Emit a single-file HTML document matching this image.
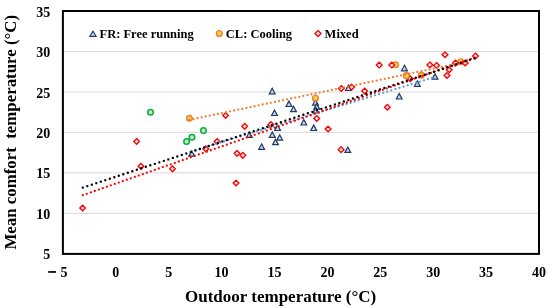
<!DOCTYPE html>
<html><head><meta charset="utf-8"><style>
html,body{margin:0;padding:0;background:#fff;width:550px;height:308px;overflow:hidden}
svg{display:block;will-change:transform}
text{font-family:"Liberation Serif",serif;font-weight:bold;fill:#000}
.tk{font-size:14px}
.lg{font-size:12.5px}
.g{stroke:#d9d9d9;stroke-width:1}
.d{fill:#d8ecf0;stroke:#ff0000;stroke-width:1.35;stroke-linejoin:miter}
.t{fill:#c5daf0;stroke:#203864;stroke-width:1.2;stroke-linejoin:miter}
.o{fill:#ffd24a;stroke:#ed7d31;stroke-width:1.4}
.gr{fill:#cfe3a8;stroke:#00b050;stroke-width:1.5}
</style></head><body>
<svg width="550" height="308" viewBox="0 0 550 308">
<rect x="0" y="0" width="550" height="308" fill="#fff"/>
<line x1="63.9" x2="538.0" y1="213.4" y2="213.4" class="g"/><line x1="63.9" x2="538.0" y1="172.9" y2="172.9" class="g"/><line x1="63.9" x2="538.0" y1="132.4" y2="132.4" class="g"/><line x1="63.9" x2="538.0" y1="92.0" y2="92.0" class="g"/><line x1="63.9" x2="538.0" y1="51.5" y2="51.5" class="g"/>
<path d="M191.7 150.8L194.6 156.2L188.8 156.2Z" class="t"/><path d="M249.4 132.0L252.3 137.4L246.5 137.4Z" class="t"/><path d="M261.6 143.9L264.5 149.3L258.7 149.3Z" class="t"/><path d="M272.2 88.3L275.1 93.8L269.3 93.8Z" class="t"/><path d="M274.5 110.0L277.4 115.5L271.6 115.5Z" class="t"/><path d="M277.6 125.1L280.5 130.5L274.7 130.5Z" class="t"/><path d="M272.3 131.9L275.2 137.3L269.4 137.3Z" class="t"/><path d="M279.7 134.7L282.6 140.2L276.8 140.2Z" class="t"/><path d="M275.5 139.2L278.4 144.7L272.6 144.7Z" class="t"/><path d="M288.9 101.1L291.8 106.5L286.0 106.5Z" class="t"/><path d="M293.5 106.2L296.4 111.7L290.6 111.7Z" class="t"/><path d="M303.8 119.5L306.7 125.0L300.9 125.0Z" class="t"/><path d="M313.7 125.1L316.6 130.5L310.8 130.5Z" class="t"/><path d="M315.5 99.8L318.4 105.2L312.6 105.2Z" class="t"/><path d="M316.7 103.8L319.6 109.2L313.8 109.2Z" class="t"/><path d="M315.8 107.6L318.7 113.0L312.9 113.0Z" class="t"/><path d="M347.8 147.0L350.7 152.4L344.9 152.4Z" class="t"/><path d="M348.4 85.1L351.3 90.5L345.5 90.5Z" class="t"/><path d="M399.2 93.5L402.1 99.0L396.3 99.0Z" class="t"/><path d="M404.5 65.3L407.4 70.8L401.6 70.8Z" class="t"/><path d="M417.3 80.9L420.2 86.3L414.4 86.3Z" class="t"/><path d="M435.0 73.7L437.9 79.2L432.1 79.2Z" class="t"/><circle cx="189.4" cy="118.3" r="2.8" class="o"/><circle cx="315.4" cy="98.2" r="2.8" class="o"/><circle cx="395.6" cy="64.8" r="2.8" class="o"/><circle cx="406.5" cy="75.6" r="2.8" class="o"/><circle cx="421.4" cy="75.3" r="2.8" class="o"/><circle cx="460.7" cy="61.7" r="2.8" class="o"/><circle cx="150.5" cy="112.3" r="2.8" class="gr"/><circle cx="186.6" cy="141.5" r="2.8" class="gr"/><circle cx="192.0" cy="137.3" r="2.8" class="gr"/><circle cx="203.5" cy="130.6" r="2.8" class="gr"/><path d="M82.6 205.2L85.4 208.0L82.6 210.8L79.8 208.0Z" class="d"/><path d="M136.6 138.6L139.4 141.4L136.6 144.2L133.8 141.4Z" class="d"/><path d="M140.9 163.5L143.8 166.3L140.9 169.2L138.1 166.3Z" class="d"/><path d="M172.5 166.0L175.3 168.8L172.5 171.7L169.7 168.8Z" class="d"/><path d="M205.8 146.0L208.7 148.8L205.8 151.7L203.0 148.8Z" class="d"/><path d="M217.2 138.7L220.0 141.5L217.2 144.3L214.3 141.5Z" class="d"/><path d="M225.6 112.7L228.4 115.5L225.6 118.3L222.8 115.5Z" class="d"/><path d="M237.0 150.5L239.8 153.3L237.0 156.2L234.2 153.3Z" class="d"/><path d="M242.8 152.5L245.7 155.3L242.8 158.2L240.0 155.3Z" class="d"/><path d="M236.1 180.2L238.9 183.0L236.1 185.8L233.2 183.0Z" class="d"/><path d="M244.7 123.5L247.5 126.3L244.7 129.2L241.8 126.3Z" class="d"/><path d="M270.9 121.8L273.8 124.6L270.9 127.4L268.0 124.6Z" class="d"/><path d="M316.7 115.6L319.6 118.4L316.7 121.2L313.8 118.4Z" class="d"/><path d="M328.1 126.2L331.0 129.0L328.1 131.8L325.2 129.0Z" class="d"/><path d="M341.1 146.8L344.0 149.7L341.1 152.5L338.2 149.7Z" class="d"/><path d="M341.3 85.7L344.2 88.5L341.3 91.3L338.4 88.5Z" class="d"/><path d="M351.7 84.2L354.6 87.1L351.7 89.9L348.8 87.1Z" class="d"/><path d="M364.6 88.2L367.5 91.0L364.6 93.8L361.8 91.0Z" class="d"/><path d="M379.2 62.2L382.1 65.1L379.2 67.9L376.3 65.1Z" class="d"/><path d="M391.8 62.2L394.7 65.1L391.8 67.9L388.9 65.1Z" class="d"/><path d="M387.4 104.4L390.2 107.2L387.4 110.0L384.5 107.2Z" class="d"/><path d="M410.3 75.9L413.2 78.7L410.3 81.5L407.4 78.7Z" class="d"/><path d="M429.9 62.1L432.8 65.0L429.9 67.8L427.0 65.0Z" class="d"/><path d="M436.5 62.6L439.4 65.4L436.5 68.2L433.6 65.4Z" class="d"/><path d="M445.0 51.9L447.9 54.7L445.0 57.6L442.1 54.7Z" class="d"/><path d="M449.2 66.9L452.1 69.7L449.2 72.5L446.3 69.7Z" class="d"/><path d="M447.0 72.7L449.9 75.5L447.0 78.3L444.1 75.5Z" class="d"/><path d="M455.5 60.2L458.4 63.1L455.5 66.0L452.6 63.1Z" class="d"/><path d="M465.2 60.1L468.1 63.0L465.2 65.8L462.3 63.0Z" class="d"/><path d="M475.5 53.1L478.4 56.0L475.5 58.9L472.6 56.0Z" class="d"/><circle cx="406.4" cy="75.8" r="2.8" class="o"/>
<line x1="189.4" y1="119.9" x2="460.7" y2="62.9" stroke="#ed7d31" stroke-width="2.3" stroke-linecap="round" stroke-dasharray="0 4.16"/><line x1="191.7" y1="151.2" x2="435" y2="77.0" stroke="#5b9bd5" stroke-width="2.3" stroke-linecap="round" stroke-dasharray="0 4.26"/><line x1="82.8" y1="195.2" x2="475.5" y2="57.3" stroke="#ff0000" stroke-width="2.3" stroke-linecap="round" stroke-dasharray="0 4.24"/><line x1="82.8" y1="187.6" x2="475.5" y2="58.0" stroke="#000000" stroke-width="2.4" stroke-linecap="round" stroke-dasharray="0 4.74"/>
<rect x="62.9" y="11.0" width="476.1" height="242.9" fill="none" stroke="#000" stroke-width="2"/>
<text x="50.2" y="259.4" text-anchor="end" class="tk">5</text><text x="50.2" y="218.9" text-anchor="end" class="tk">10</text><text x="50.2" y="178.4" text-anchor="end" class="tk">15</text><text x="50.2" y="137.9" text-anchor="end" class="tk">20</text><text x="50.2" y="97.5" text-anchor="end" class="tk">25</text><text x="50.2" y="57.0" text-anchor="end" class="tk">30</text><text x="50.2" y="16.5" text-anchor="end" class="tk">35</text>
<rect x="48.2" y="271.1" width="7.8" height="1.7" fill="#000"/><text x="60.4" y="276.8" class="tk">5</text><text x="115.8" y="276.8" text-anchor="middle" class="tk">0</text><text x="168.7" y="276.8" text-anchor="middle" class="tk">5</text><text x="221.6" y="276.8" text-anchor="middle" class="tk">10</text><text x="274.5" y="276.8" text-anchor="middle" class="tk">15</text><text x="327.4" y="276.8" text-anchor="middle" class="tk">20</text><text x="380.3" y="276.8" text-anchor="middle" class="tk">25</text><text x="433.2" y="276.8" text-anchor="middle" class="tk">30</text><text x="486.1" y="276.8" text-anchor="middle" class="tk">35</text><text x="539.0" y="276.8" text-anchor="middle" class="tk">40</text>
<path d="M93 31.2L96.1 36.3L89.9 36.3Z" class="t"/>
<text x="99.5" y="37.6" class="lg">FR: Free running</text>
<circle cx="219.3" cy="33.4" r="2.8" class="o"/>
<text x="225.8" y="37.6" class="lg">CL: Cooling</text>
<path d="M318 30.6L321 33.6L318 36.6L315 33.6Z" class="d"/>
<text x="324.6" y="37.6" class="lg">Mixed</text>
<text x="185" y="301.5" style="font-size:17px">Outdoor temperature (°C)</text>
<text transform="translate(15.8 249.6) rotate(-90)" style="font-size:16.85px;white-space:pre" xml:space="preserve">Mean comfort  temperature (°C)</text>
</svg>
</body></html>
